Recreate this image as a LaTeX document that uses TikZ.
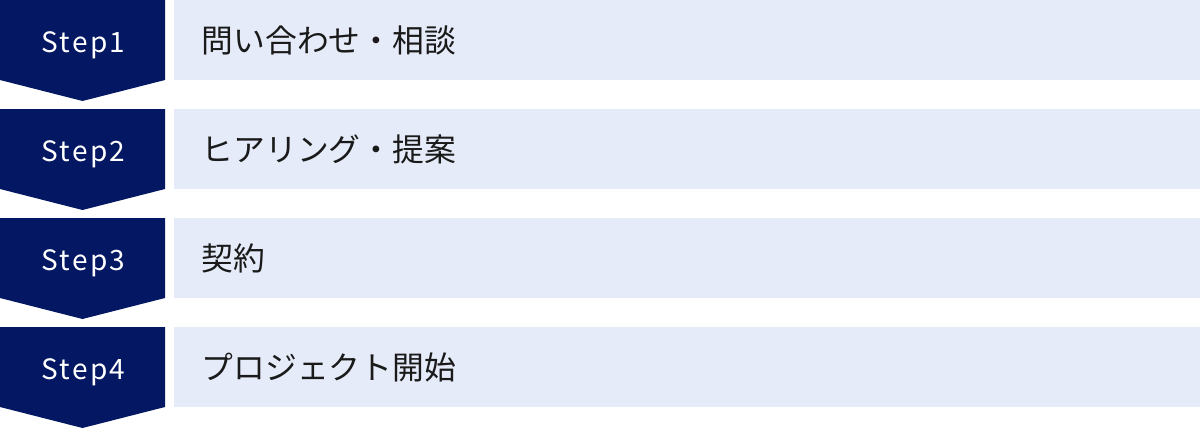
\documentclass[tikz,border=0pt]{standalone}
\usepackage{fontspec}
\setmainfont{Noto Sans CJK JP}
\newfontfamily\stepfont[LetterSpace=8]{Noto Sans CJK JP}
\definecolor{navy}{HTML}{041762}
\definecolor{barblue}{HTML}{E5EBF8}
\definecolor{txt}{HTML}{1A1A1A}
\tikzset{
  stepshape/.style={fill=navy,draw=none},
  barshape/.style={fill=barblue,draw=none},
  steplabel/.style={anchor=base,inner sep=0pt,text=white,font=\stepfont\fontsize{28}{30}\selectfont},
  barlabel/.style={anchor=base west,inner sep=0pt,text=txt,font=\fontsize{31.8}{34}\selectfont}
}
\begin{document}
\begin{tikzpicture}[x=1pt,y=-1pt]
\useasboundingbox (0,0) rectangle (1200,429);
\foreach \i/\t in {0/問い合わせ・相談,1/ヒアリング・提案,2/契約,3/プロジェクト開始}{
  \pgfmathsetmacro{\yy}{\i*109}
  \pgfmathtruncatemacro{\n}{\i+1}
  \fill[stepshape] (0,\yy) -- (165,\yy) -- (165,\yy+80) -- (82.5,\yy+101) -- (0,\yy+80) -- cycle;
  \fill[barshape] (174,\yy) rectangle (1200,\yy+80);
  \node[steplabel] (s\n) at (83.5,\yy+52.3) {Step\n};
  \node[barlabel] (b\n) at (201.5,\yy+52) {\t};
}
\end{tikzpicture}
\end{document}
